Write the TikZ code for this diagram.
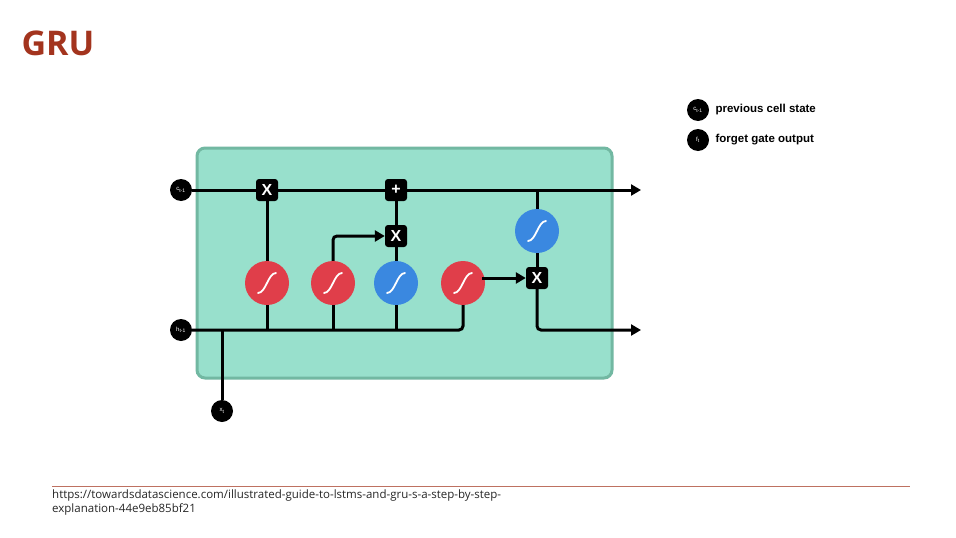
\documentclass[tikz,border=0pt]{standalone}
\usepackage{fontspec}
\setmainfont{Open Sans}
\newfontfamily\arial{Liberation Sans}
\usetikzlibrary{arrows.meta,calc}
\definecolor{boxgreen}{HTML}{98E0CC}
\definecolor{boxedge}{HTML}{72B8A2}
\definecolor{sred}{HTML}{E03E4A}
\definecolor{sblue}{HTML}{3A88E0}
\definecolor{titlered}{HTML}{A3341E}
\tikzset{
  x=1pt,y=-1pt,
  wire/.style={line width=3pt,black,rounded corners=4pt},
  arr/.style={wire,-{Triangle[length=10pt,width=11pt]}},
  op/.style={fill=black,rounded corners=3pt,minimum size=22pt,inner sep=0pt,text=white,font=\arial\bfseries\fontsize{16}{16}\selectfont},
  dot/.style={circle,fill=black,minimum size=22pt,inner sep=0pt,text=white,font=\arial\fontsize{6}{6}\selectfont},
  sig/.style={circle,minimum size=44pt,inner sep=0pt},
  lab/.style={anchor=west,font=\arial\bfseries\fontsize{11.5}{13}\selectfont}
}
\newcommand{\sshape}[1]{\draw[white,line width=1.8pt,line cap=round] ($(#1)+(-9,10)$) .. controls ($(#1)+(-1,10)$) and ($(#1)+(1,-10)$) .. ($(#1)+(9,-10)$);}
\begin{document}
\begin{tikzpicture}
\useasboundingbox (0,0) rectangle (956,538);
\fill[white] (0,0) rectangle (956,538);
\node[anchor=west,text=titlered,font=\bfseries\fontsize{34}{36}\selectfont] (title) at (18,43) {GRU};
\draw[boxedge,line width=3pt,fill=boxgreen,rounded corners=8pt] (197,148) rectangle (612,378);
% nodes
\node[dot] (c) at (181,190) {c\textsubscript{t-1}};
\node[dot] (h) at (181,330) {h\textsubscript{t-1}};
\node[dot] (x) at (222,411) {x\textsubscript{t}};
\node[sig,fill=sred] (s1) at (267,283) {};
\node[sig,fill=sred] (s2) at (333,283) {};
\node[sig,fill=sblue] (s3) at (396,283) {};
\node[sig,fill=sred] (s4) at (463,283) {};
\node[sig,fill=sblue] (s5) at (537,231) {};
\coordinate (cend) at (641,190);
\coordinate (hend) at (641,330);
\coordinate (m3in) at (482,278);
% wires
\draw[wire] (c.east) -- (266,190);
\draw[wire] (266,190) -- (396,190);
\draw[arr] (396,190) -- (cend);
\draw[wire] (h.east) -- (463,330) -- (s4.south);
\draw[wire] (x.north) -- (222,330);
\draw[wire] (267,190) -- (s1.north);
\draw[wire] (s1.south) -- (267,330);
\draw[wire] (s2.south) -- (333,330);
\draw[wire] (s3.south) -- (396,330);
\draw[wire] (396,190) -- (s3.north);
\draw[wire] (537,190) -- (s5.north);
\node[op] (m1) at (267,190) {X};
\node[op] (p1) at (396,190) {+};
\node[op] (m2) at (396,236) {X};
\node[op] (m3) at (537,278) {X};
\draw[arr] (s2.north) -- (333,236) -- (m2.west);
\draw[arr] (m3in) -- (m3.west);
\draw[wire] (s5.south) -- (m3.north);
\draw[arr] (m3.south) -- (537,330) -- (hend);
\foreach \s in {s1,s2,s3,s4,s5}{\sshape{\s}}
% legend
\node[dot] (l1) at (698,110) {c\textsubscript{t-1}};
\node[dot] (l2) at (698,140) {f\textsubscript{t}};
\node[lab] at (712,110) {previous cell state};
\node[lab] at (712,140) {forget gate output};
% footer
\draw[titlered!70,line width=0.6pt] (52,486) -- (910,486);
\node[anchor=north west,align=left,text=black!85,font=\fontsize{11.5}{14}\selectfont,inner sep=0pt] (src) at (52,490) {https://towardsdatascience.com/illustrated-guide-to-lstms-and-gru-s-a-step-by-step-\\explanation-44e9eb85bf21};
\end{tikzpicture}
\end{document}
